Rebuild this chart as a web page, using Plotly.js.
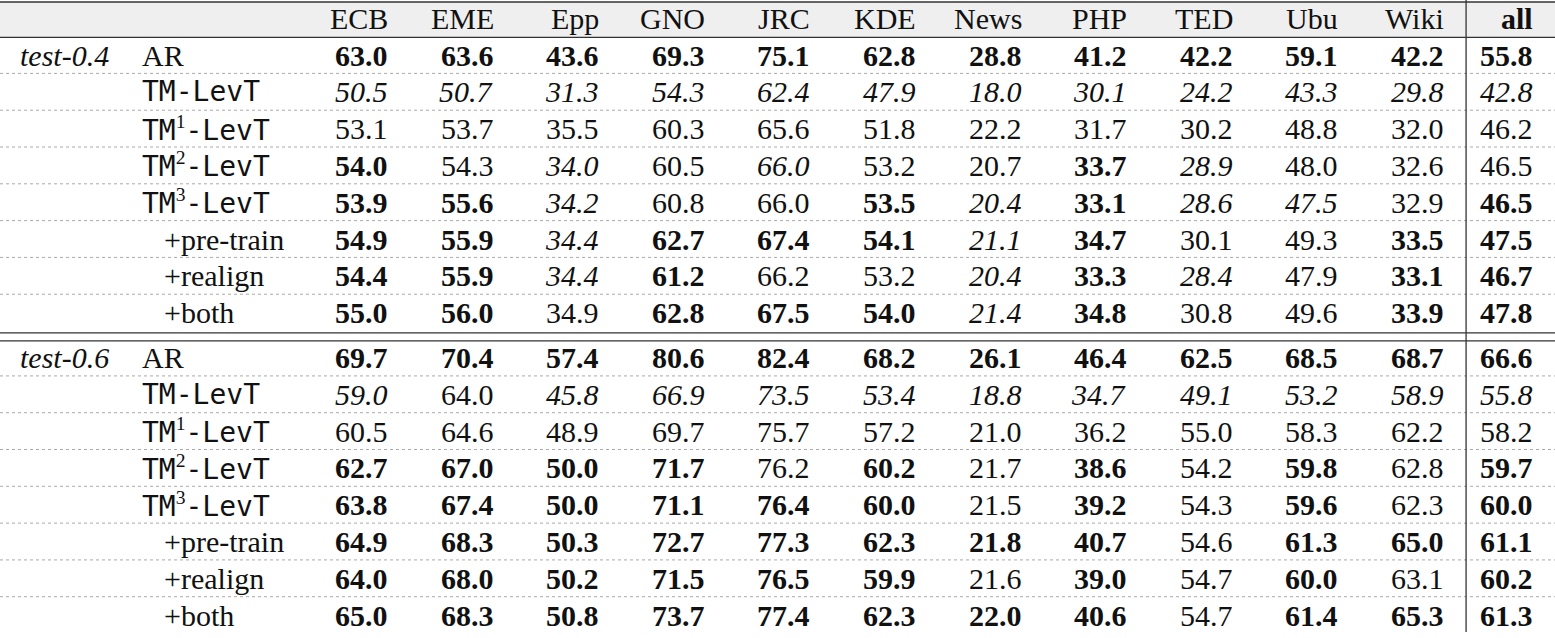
<!DOCTYPE html>
<html><head><meta charset="utf-8">
<script src="https://cdn.plot.ly/plotly-3.0.1.min.js"></script>
<style>html,body{margin:0;padding:0;background:#fff}</style>
</head><body><div id="chart" style="width:1555px;height:638px"></div>
<script>
// ---------------- data ----------------
const columns = ['ECB','EME','Epp','GNO','JRC','KDE','News','PHP','TED','Ubu','Wiki','all'];
const groupLabels = ['test-0.4','test-0.6'];
const methods = ['AR','TM-LevT','TM<sup>1</sup>-LevT','TM<sup>2</sup>-LevT','TM<sup>3</sup>-LevT','+pre-train','+realign','+both'];

const test04Values = [
  [63.0,63.6,43.6,69.3,75.1,62.8,28.8,41.2,42.2,59.1,42.2,55.8],
  [50.5,50.7,31.3,54.3,62.4,47.9,18.0,30.1,24.2,43.3,29.8,42.8],
  [53.1,53.7,35.5,60.3,65.6,51.8,22.2,31.7,30.2,48.8,32.0,46.2],
  [54.0,54.3,34.0,60.5,66.0,53.2,20.7,33.7,28.9,48.0,32.6,46.5],
  [53.9,55.6,34.2,60.8,66.0,53.5,20.4,33.1,28.6,47.5,32.9,46.5],
  [54.9,55.9,34.4,62.7,67.4,54.1,21.1,34.7,30.1,49.3,33.5,47.5],
  [54.4,55.9,34.4,61.2,66.2,53.2,20.4,33.3,28.4,47.9,33.1,46.7],
  [55.0,56.0,34.9,62.8,67.5,54.0,21.4,34.8,30.8,49.6,33.9,47.8]
];
// b = best (bold), i = worst (italic), n = plain
const test04Emphasis = [
  'bbbbbbbbbbbb',
  'iiiiiiiiiiii',
  'nnnnnnnnnnnn',
  'bnininnbinnn',
  'bbinnbibiinb',
  'bbibbbibnnbb',
  'bbibnnibinbb',
  'bbnbbbibnnbb'
];
const test06Values = [
  [69.7,70.4,57.4,80.6,82.4,68.2,26.1,46.4,62.5,68.5,68.7,66.6],
  [59.0,64.0,45.8,66.9,73.5,53.4,18.8,34.7,49.1,53.2,58.9,55.8],
  [60.5,64.6,48.9,69.7,75.7,57.2,21.0,36.2,55.0,58.3,62.2,58.2],
  [62.7,67.0,50.0,71.7,76.2,60.2,21.7,38.6,54.2,59.8,62.8,59.7],
  [63.8,67.4,50.0,71.1,76.4,60.0,21.5,39.2,54.3,59.6,62.3,60.0],
  [64.9,68.3,50.3,72.7,77.3,62.3,21.8,40.7,54.6,61.3,65.0,61.1],
  [64.0,68.0,50.2,71.5,76.5,59.9,21.6,39.0,54.7,60.0,63.1,60.2],
  [65.0,68.3,50.8,73.7,77.4,62.3,22.0,40.6,54.7,61.4,65.3,61.3]
];
const test06Emphasis = [
  'bbbbbbbbbbbb',
  'iniiiiiiiiii',
  'nnnnnnnnnnnn',
  'bbbbnbnbnbnb',
  'bbbbbbnbnbnb',
  'bbbbbbbbnbbb',
  'bbbbbbnbnbnb',
  'bbbbbbbbnbbb'
];

// ---------------- layout constants ----------------
const SERIF = 'Liberation Serif, Times New Roman, serif';
const MONO = 'DejaVu Sans Mono, monospace';
const FS = 30;
const FS_MONO = 28;
const INK = '#111';
const colX = columns.map((c, i) => i < columns.length - 1 ? i : 10.843);
const groupStart = [0, 8.22];
const groupX = -3.523, methodX = -2.367, indentX = -2.159;
const vlineX = 10.19;

const groupsData = [
  {label: groupLabels[0], values: test04Values, emph: test04Emphasis},
  {label: groupLabels[1], values: test06Values, emph: test06Emphasis}
];

function fmt(v, e) {
  const s = v.toFixed(1);
  return e === 'b' ? '<b>' + s + '</b>' : e === 'i' ? '<i>' + s + '</i>' : s;
}
// superscript digits are set in the serif face, as in the source
function methodText(m) {
  return m.replace(/<sup>(.*?)<\/sup>/, '<sup><span style="font-family:Liberation Serif">$1</span></sup>');
}

const annotations = [];
const shapes = [];

// header band
shapes.push({type:'rect', xref:'paper', yref:'y', x0:0, x1:1, y0:-1.44, y1:-0.48,
  fillcolor:'#efefef', line:{width:0}, layer:'below'});
shapes.push({type:'line', xref:'paper', yref:'y', x0:0, x1:1, y0:-1.44, y1:-1.44, line:{color:'#333', width:1.3}});
shapes.push({type:'line', xref:'paper', yref:'y', x0:0, x1:1, y0:-0.48, y1:-0.48, line:{color:'#333', width:1.3}});

columns.forEach((c, i) => {
  annotations.push({x: colX[i], y: -1, xref:'x', yref:'y', xanchor:'right', yanchor:'middle',
    text: c === 'all' ? '<b>' + c + '</b>' : c, showarrow:false,
    font:{family: SERIF, size: FS, color: INK}});
});

groupsData.forEach((g, gi) => {
  const r0 = groupStart[gi];
  annotations.push({x: groupX, y: r0, xref:'x', yref:'y', xanchor:'left', yanchor:'middle',
    text:'<i>' + g.label + '</i>', showarrow:false, font:{family:SERIF, size:FS, color:INK}});
  methods.forEach((m, k) => {
    const r = r0 + k;
    const mono = m.startsWith('TM');
    const indent = m.startsWith('+');
    annotations.push({x: indent ? indentX : methodX, y: r, xref:'x', yref:'y', xanchor:'left', yanchor:'middle',
      text: methodText(m), showarrow:false, font:{family: mono ? MONO : SERIF, size: mono ? FS_MONO : FS, color: INK}});
    g.values[k].forEach((v, ci) => {
      annotations.push({x: colX[ci], y: r, xref:'x', yref:'y', xanchor:'right', yanchor:'middle',
        text: fmt(v, g.emph[k][ci]), showarrow:false, font:{family:SERIF, size:FS, color:INK}});
    });
    if (k < methods.length - 1) {
      shapes.push({type:'line', xref:'paper', yref:'y', x0:0, x1:1, y0:r + 0.5, y1:r + 0.5,
        line:{color:'#aaa', width:1, dash:'dot'}});
    }
  });
});

// double rule between groups
[7.55, 7.77].forEach(y => shapes.push({type:'line', xref:'paper', yref:'y', x0:0, x1:1, y0:y, y1:y,
  line:{color:'#333', width:1.3}}));
// vertical rule before "all"
shapes.push({type:'line', xref:'x', yref:'y', x0:vlineX, x1:vlineX, y0:-1.4946, y1:15.68,
  line:{color:'#333', width:1.3}});

const layout = {
  width:1555, height:638, margin:{l:0, r:0, t:0, b:0, pad:0},
  paper_bgcolor:'#fff', plot_bgcolor:'#fff', showlegend:false,
  xaxis:{range:[-3.693, 11.032], visible:false, fixedrange:true},
  yaxis:{range:[15.842, -1.4946], visible:false, fixedrange:true},
  annotations, shapes
};
Plotly.newPlot('chart', [{x:[], y:[], type:'scatter', mode:'markers', hoverinfo:'skip'}], layout,
  {displayModeBar:false, staticPlot:true});
</script></body></html>
